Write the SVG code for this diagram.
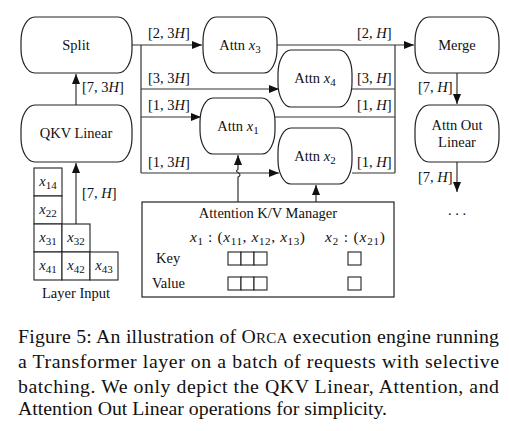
<svg xmlns="http://www.w3.org/2000/svg" width="509" height="431" viewBox="0 0 509 431">
<defs>
<marker id="ah" viewBox="0 0 10 8" refX="10" refY="4" markerWidth="10" markerHeight="8" markerUnits="userSpaceOnUse" orient="auto">
<path d="M0,0 L10,4 L0,8 Z" fill="#111"/>
</marker>
<style>
text{font-family:"Liberation Serif","Times New Roman",serif;fill:#111}
.n{fill:#fff;stroke:#222;stroke-width:1.2}
.c{fill:none;stroke:#333;stroke-width:1.2}
.a{fill:none;stroke:#333;stroke-width:1.2;marker-end:url(#ah)}
.t{font-size:14.5px;text-anchor:middle}
.l{font-size:14.5px}
.m{font-size:15.5px}
.i{font-style:italic}
.s{font-size:11px}
.cell{fill:#fff;stroke:#222;stroke-width:1.1}
.cap{font-size:19.8px}
</style>
</defs>
<rect width="509" height="431" fill="#fff"/>
<g id="connectors">
<path class="a" d="M76,105 V74"/>
<path class="a" d="M76,224 V163"/>
<path class="a" d="M132,45 H202"/>
<path class="c" d="M141,45 V173"/>
<path class="a" d="M141,89 H279"/>
<path class="a" d="M141,117 H201"/>
<path class="a" d="M141,173 H279"/>
<path class="a" d="M277,45 H414"/>
<path class="c" d="M395,45 V173"/>
<path class="c" d="M352,89 H395"/>
<path class="c" d="M275,117 H395"/>
<path class="c" d="M352,173 H395"/>
<path class="a" d="M457,73 V104"/>
<path class="a" d="M457,162 V192"/>
<path class="a" d="M238,202 V177 q4,-2 0,-4.5 q-3,-1.5 0,-3 V155"/>
<path class="a" d="M316,202 V185"/>
</g>
<g id="labels">
<text class="l" x="82" y="92">[7, 3<tspan class="i">H</tspan>]</text>
<text class="l" x="82" y="198">[7, <tspan class="i">H</tspan>]</text>
<text class="l" x="148" y="38">[2, 3<tspan class="i">H</tspan>]</text>
<text class="l" x="148" y="83">[3, 3<tspan class="i">H</tspan>]</text>
<text class="l" x="148" y="110">[1, 3<tspan class="i">H</tspan>]</text>
<text class="l" x="148" y="167">[1, 3<tspan class="i">H</tspan>]</text>
<text class="l" x="357" y="38">[2, <tspan class="i">H</tspan>]</text>
<text class="l" x="357" y="83">[3, <tspan class="i">H</tspan>]</text>
<text class="l" x="357" y="110">[1, <tspan class="i">H</tspan>]</text>
<text class="l" x="357" y="167">[1, <tspan class="i">H</tspan>]</text>
<text class="l" x="418" y="92">[7, <tspan class="i">H</tspan>]</text>
<text class="l" x="418" y="182">[7, <tspan class="i">H</tspan>]</text>
<text class="t" x="457" y="215">. . .</text>
</g>
<g id="split"><rect class="n" x="21" y="17" width="111" height="56" rx="14" ry="24"/><text class="t" x="76" y="50">Split</text></g>
<g id="qkv"><rect class="n" x="21" y="105" width="111" height="57" rx="14" ry="24"/><text class="t" x="76" y="138">QKV Linear</text></g>
<g id="attn-x3"><rect class="n" x="203" y="17" width="74" height="56" rx="13" ry="24"/><text class="t" x="240" y="50">Attn <tspan class="i">x</tspan><tspan class="s" dy="3">3</tspan></text></g>
<g id="attn-x4"><rect class="n" x="278" y="50" width="74" height="57" rx="13" ry="24"/><text class="t" x="315" y="83">Attn <tspan class="i">x</tspan><tspan class="s" dy="3">4</tspan></text></g>
<g id="attn-x1"><rect class="n" x="200" y="98" width="75" height="56" rx="13" ry="24"/><text class="t" x="238" y="131">Attn <tspan class="i">x</tspan><tspan class="s" dy="3">1</tspan></text></g>
<g id="attn-x2"><rect class="n" x="278" y="128" width="74" height="56" rx="13" ry="24"/><text class="t" x="315" y="161">Attn <tspan class="i">x</tspan><tspan class="s" dy="3">2</tspan></text></g>
<g id="merge"><rect class="n" x="415" y="17" width="84" height="56" rx="14" ry="24"/><text class="t" x="457" y="50">Merge</text></g>
<g id="attn-out"><rect class="n" x="415" y="105" width="84" height="57" rx="14" ry="24"/><text class="t" x="457" y="130">Attn Out</text><text class="t" x="457" y="147">Linear</text></g>
<g id="layer-input">
<rect class="cell" x="34" y="168" width="28" height="28"/>
<rect class="cell" x="34" y="196" width="28" height="28"/>
<rect class="cell" x="34" y="224" width="28" height="28"/>
<rect class="cell" x="62" y="224" width="28" height="28"/>
<rect class="cell" x="34" y="252" width="28" height="28"/>
<rect class="cell" x="62" y="252" width="28" height="28"/>
<rect class="cell" x="90" y="252" width="28" height="28"/>
<text class="t" x="48" y="186"><tspan class="i">x</tspan><tspan class="s" dy="3">14</tspan></text>
<text class="t" x="48" y="214"><tspan class="i">x</tspan><tspan class="s" dy="3">22</tspan></text>
<text class="t" x="48" y="242"><tspan class="i">x</tspan><tspan class="s" dy="3">31</tspan></text>
<text class="t" x="76" y="242"><tspan class="i">x</tspan><tspan class="s" dy="3">32</tspan></text>
<text class="t" x="48" y="270"><tspan class="i">x</tspan><tspan class="s" dy="3">41</tspan></text>
<text class="t" x="76" y="270"><tspan class="i">x</tspan><tspan class="s" dy="3">42</tspan></text>
<text class="t" x="104" y="270"><tspan class="i">x</tspan><tspan class="s" dy="3">43</tspan></text>
<text class="t" x="76" y="298">Layer Input</text>
</g>
<g id="kv-manager">
<rect x="142" y="202" width="252" height="95" fill="#fff" stroke="#222" stroke-width="1.2"/>
<text class="t" x="268" y="218">Attention K/V Manager</text>
<text class="m" x="190" y="242" textLength="115" lengthAdjust="spacing"><tspan class="i">x</tspan><tspan class="s" dy="3">1</tspan><tspan dy="-3"> : (</tspan><tspan class="i">x</tspan><tspan class="s" dy="3">11</tspan><tspan dy="-3">, </tspan><tspan class="i">x</tspan><tspan class="s" dy="3">12</tspan><tspan dy="-3">, </tspan><tspan class="i">x</tspan><tspan class="s" dy="3">13</tspan><tspan dy="-3">)</tspan></text>
<text class="m" x="325" y="242" textLength="60" lengthAdjust="spacing"><tspan class="i">x</tspan><tspan class="s" dy="3">2</tspan><tspan dy="-3"> : (</tspan><tspan class="i">x</tspan><tspan class="s" dy="3">21</tspan><tspan dy="-3">)</tspan></text>
<text class="l" x="156" y="263">Key</text>
<text class="l" x="152" y="288">Value</text>
<rect class="cell" x="228" y="252" width="13" height="13"/>
<rect class="cell" x="241" y="252" width="13" height="13"/>
<rect class="cell" x="254" y="252" width="13" height="13"/>
<rect class="cell" x="348" y="252" width="13" height="13"/>
<rect class="cell" x="228" y="277" width="13" height="13"/>
<rect class="cell" x="241" y="277" width="13" height="13"/>
<rect class="cell" x="254" y="277" width="13" height="13"/>
<rect class="cell" x="348" y="277" width="13" height="13"/>
</g>
<g id="caption">
<text class="cap" x="18" y="343" textLength="481" lengthAdjust="spacing">Figure 5: An illustration of O<tspan font-size="15px">RCA</tspan> execution engine running</text>
<text class="cap" x="18" y="368" textLength="481" lengthAdjust="spacing">a Transformer layer on a batch of requests with selective</text>
<text class="cap" x="18" y="393" textLength="481" lengthAdjust="spacing">batching. We only depict the QKV Linear, Attention, and</text>
<text class="cap" x="18" y="415">Attention Out Linear operations for simplicity.</text>
</g>
</svg>
